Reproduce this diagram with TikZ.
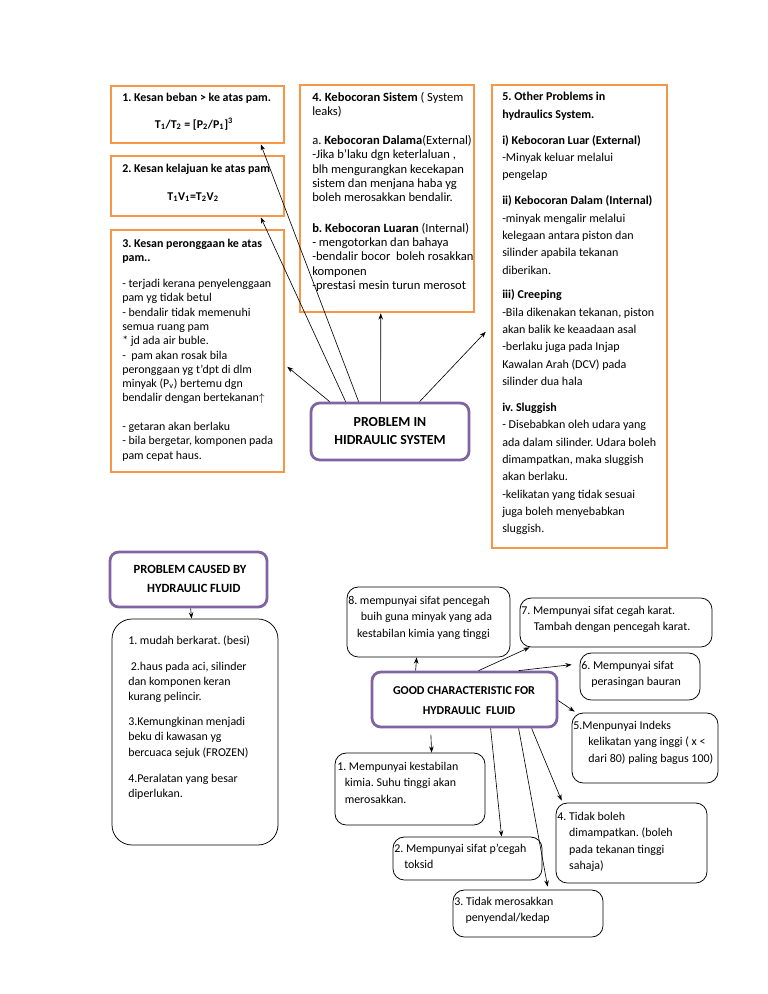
\documentclass[tikz,border=0pt]{standalone}
\usepackage{fontspec}
\setmainfont{Carlito}
\usetikzlibrary{fit,calc,arrows.meta}
\definecolor{orgC}{RGB}{247,150,70}
\definecolor{purC}{RGB}{128,100,162}
\newcommand\szA{\fontsize{9.5}{11.4}\selectfont}
\newcommand\szF{\fontsize{10}{11.4}\selectfont}
\newcommand\szB{\fontsize{9.6}{13.8}\selectfont}
\newcommand\szC{\fontsize{9.5}{12}\selectfont}
\newcommand\szD{\fontsize{9.5}{13}\selectfont}
\newcommand\szE{\fontsize{10}{14.5}\selectfont\bfseries}
\newcommand\szG{\fontsize{11}{15}\selectfont\bfseries}
\newcommand\szH{\fontsize{9.6}{16}\selectfont\bfseries}
\frenchspacing
\begin{document}
\frenchspacing
\begin{tikzpicture}[x=0.796875pt,y=-0.796875pt,
  obox/.style={draw=orgC,line width=2pt,inner sep=0pt},
  pbox/.style={draw=purC,line width=2.2pt,rounded corners=7pt,inner sep=0pt},
  kbox/.style={draw=black,line width=0.6pt,rounded corners=9pt,inner sep=0pt},
  txt/.style={inner sep=0pt,anchor=north west,align=left},
  ctxt/.style={inner sep=0pt,align=center},
  arr/.style={-{Stealth[length=5pt,width=3.6pt]},line width=0.5pt}]
\fill[white] (0,0) rectangle (768,994);
\useasboundingbox (0,0) rectangle (768,994);

% ---------------- top section boxes
\node[obox,fit={(111,86)(284,143)}] (b1) {};
\node[obox,fit={(111,156)(284,216)}] (b2) {};
\node[obox,fit={(111,230)(284,472)}] (b3) {};
\node[obox,fit={(300,85)(474,312)}] (b4) {};
\node[obox,fit={(492,85)(667,548)}] (b5) {};
\node[pbox,fit={(311,403)(469,460)}] (pis) {};

% texts
\node[txt,font=\szA\bfseries] (t1a) at (122,93) {1. Kesan beban > ke atas pam.};
\node[ctxt,font=\szA\bfseries] (t1b) at (194,124) {T\textsubscript{1}/T\textsubscript{2} = [P\textsubscript{2}/P\textsubscript{1}]\textsuperscript{3}};
\node[txt,font=\szA\bfseries] (t2a) at (122,164) {2. Kesan kelajuan ke atas pam};
\node[ctxt,font=\szA\bfseries] (t2b) at (193,197) {T\textsubscript{1}V\textsubscript{1}=T\textsubscript{2}V\textsubscript{2}};
\node[txt,font=\szA\bfseries] (t3a) at (122,239) {3. Kesan peronggaan ke atas\\pam..};
\node[txt,font=\szA] (t3b) at (122,279) {- terjadi kerana penyelenggaan\\
pam yg tidak betul\\
- bendalir tidak memenuhi\\
semua ruang pam\\
* jd ada air buble.\\
-\ \ pam akan rosak bila\\
peronggaan yg t’dpt di dlm\\
minyak (P\textsubscript{v}) bertemu dgn\\
bendalir dengan bertekanan$\uparrow$\\[11.4pt]
- getaran akan berlaku\\
- bila bergetar, komponen pada\\
pam cepat haus.};
\node[txt,font=\szF] (t4) at (312,92) {\textbf{4. Kebocoran Sistem} ( System\\
leaks)\\[11.5pt]
a. \textbf{Kebocoran Dalama}(External)\\
-Jika b’laku dgn keterlaluan ,\\
blh mengurangkan kecekapan\\
sistem dan menjana haba yg\\
boleh merosakkan bendalir.\\[13pt]
\textbf{b. Kebocoran Luaran} (Internal)\\
- mengotorkan dan bahaya\\
-bendalir bocor\ \ boleh rosakkan\\
komponen\\
-prestasi mesin turun merosot};
\node[txt,font=\szB] (t5) at (502,92) {\textbf{5. Other Problems in}\\
\textbf{hydraulics System.}\\[7pt]
\textbf{i) Kebocoran Luar (External)}\\
-Minyak keluar melalui\\
pengelap\\[7pt]
\textbf{ii) Kebocoran Dalam (Internal)}\\
-minyak mengalir melalui\\
kelegaan antara piston dan\\
silinder apabila tekanan\\
diberikan.\\[6pt]
\textbf{iii) Creeping}\\
-Bila dikenakan tekanan, piston\\
akan balik ke keaadaan asal\\
-berlaku juga pada Injap\\
Kawalan Arah (DCV) pada\\
silinder dua hala\\[7pt]
\textbf{iv. Sluggish}\\
- Disebabkan oleh udara yang\\
ada dalam silinder. Udara boleh\\
dimampatkan, maka sluggish\\
akan berlaku.\\
-kelikatan yang tidak sesuai\\
juga boleh menyebabkan\\
sluggish.};
\node[ctxt,font=\szG] (tpis) at (390,431) {PROBLEM IN\\HIDRAULIC SYSTEM};

% top arrows
\draw[arr] ($(pis.north west)+(49,0)$) -- ($(b1.south west)+(151,0)$);
\draw[arr] ($(pis.north west)+(36,0)$) -- ($(b2.south west)+(151,0)$);
\draw[arr] ($(pis.north west)+(20,0)$) -- ($(b3.north east)+(2,138)$);
\draw[arr] ($(pis.north west)+(71,0)$) -- ($(b4.south west)+(82,0)$);
\draw[arr] ($(pis.north west)+(110,0)$) -- ($(b5.north west)+(-5,248)$);

% ---------------- bottom left
\node[pbox,fit={(110,552)(267,607)}] (pcf) {};
\node[ctxt,font=\szE] (tpcf) at (190,579) {PROBLEM CAUSED BY\\\hspace*{6pt}HYDRAULIC FLUID};
\node[kbox,rounded corners=16pt,fit={(112,619)(278,845)}] (big) {};
\node[txt,font=\szC] (tbig) at (128,636) {1. mudah berkarat. (besi)\\[8pt]
\hspace*{2pt}2.haus pada aci, silinder\\
dan komponen keran\\
kurang pelincir.\\[8.5pt]
3.Kemungkinan menjadi\\
beku di kawasan yg\\
bercuaca sejuk (FROZEN)\\[9pt]
4.Peralatan yang besar\\
diperlukan.};
\draw[arr] ($(pcf.south west)+(82,0)$) -- ($(big.north west)+(80,0)$);

% ---------------- bottom right
\node[pbox,fit={(372,672)(557,727)}] (gc) {};
\node[ctxt,font=\szH] (tgc) at (464,701) {GOOD CHARACTERISTIC FOR\\\hspace*{8pt}HYDRAULIC\ \ FLUID};
\node[kbox,fit={(347,587)(510,657)}] (g8) {};
\node[kbox,fit={(520,598)(712,647)}] (g7) {};
\node[kbox,fit={(580,653)(700,700)}] (g6) {};
\node[kbox,fit={(572,713)(718,783)}] (g5) {};
\node[kbox,fit={(335,753)(485,825)}] (g1) {};
\node[kbox,fit={(393,837)(542,880)}] (g2) {};
\node[kbox,fit={(453,890)(603,937)}] (g3) {};
\node[kbox,fit={(556,803)(707,883)}] (g4) {};

\node[txt,font=\szD] (t8) at (348,596) {8. mempunyai sifat pencegah\\\hspace*{10pt}buih guna minyak yang ada\\\hspace*{7pt}kestabilan kimia yang tinggi};
\node[txt,font=\szD] (t7) at (521,606) {7. Mempunyai sifat cegah karat.\\\hspace*{10pt}Tambah dengan pencegah karat.};
\node[txt,font=\szD] (t6) at (581,661) {6. Mempunyai sifat\\\hspace*{8pt}perasingan bauran};
\node[txt,font=\szD] (t5b) at (573,721) {5.Menpunyai Indeks\\\hspace*{12pt}kelikatan yang inggi ( x <\\\hspace*{12pt}dari 80) paling bagus 100)};
\node[txt,font=\szD] (t1c) at (337,762) {1. Mempunyai kestabilan\\\hspace*{6pt}kimia. Suhu tinggi akan\\\hspace*{6pt}merosakkan.};
\node[txt,font=\szD] (t2c) at (394,844) {2. Mempunyai sifat p’cegah\\\hspace*{8pt}toksid};
\node[txt,font=\szD] (t3c) at (454,897) {3. Tidak merosakkan\\\hspace*{9pt}penyendal/kedap};
\node[txt,font=\szD] (t4c) at (557,812) {4. Tidak boleh\\\hspace*{9.5pt}dimampatkan. (boleh\\\hspace*{9.5pt}pada tekanan tinggi\\\hspace*{9.5pt}sahaja)};

% bottom right arrows
\draw[arr] ($(gc.north west)+(45,0)$) -- ($(g8.south west)+(70,0)$);
\draw[arr] ($(gc.north west)+(108,0)$) -- ($(g7.south west)+(10,0)$);
\draw[arr] ($(gc.north west)+(148,0)$) -- ($(g6.north west)+(-8,12)$);
\draw[arr] ($(gc.north east)+(0,30)$) -- ($(g5.north west)+(3,-1)$);
\draw[arr,shorten <=5pt] ($(gc.south west)+(60,0)$) -- ($(g1.north west)+(97,0)$);
\draw[arr] ($(gc.south west)+(120,0)$) -- ($(g2.north west)+(109,0)$);
\draw[arr] ($(gc.south west)+(148,0)$) -- ($(g3.north west)+(95,-3)$);
\draw[arr] ($(gc.south west)+(161,0)$) -- ($(g4.north west)+(6,-2)$);
\end{tikzpicture}
\end{document}
